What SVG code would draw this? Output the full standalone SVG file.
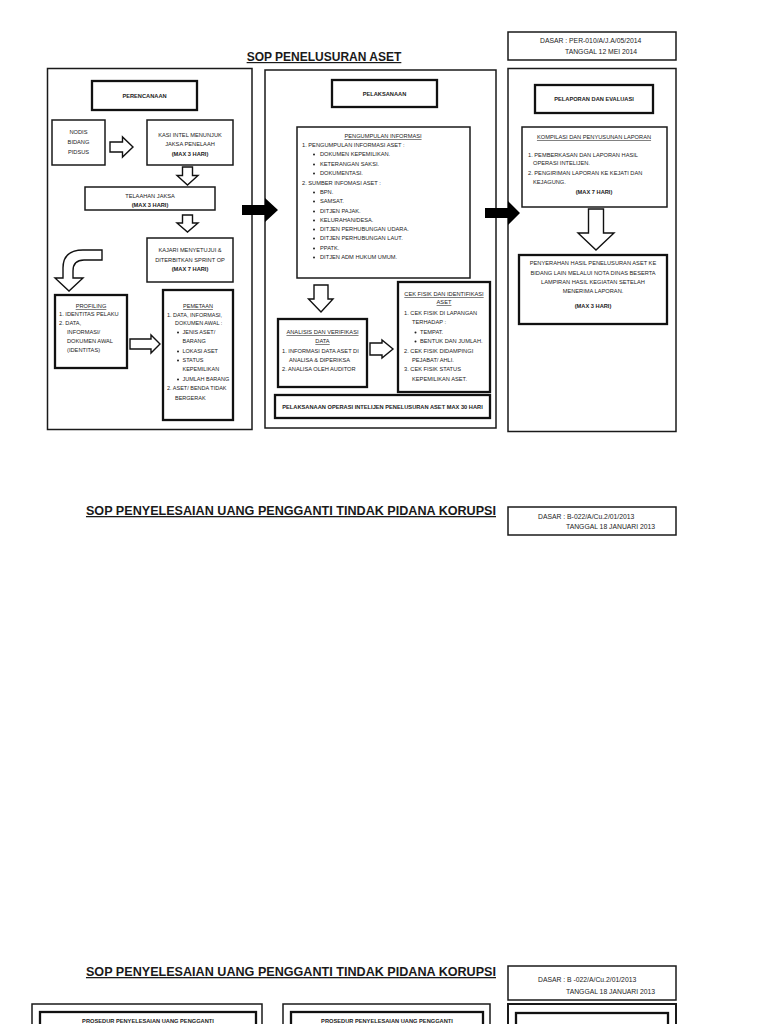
<svg xmlns="http://www.w3.org/2000/svg" width="768" height="1024" viewBox="0 0 768 1024">
<style>
.bg{fill:#ffffff}
.panel{fill:none;stroke:#1a1a1a;stroke-width:1.5}
.box{fill:#ffffff;stroke:#1a1a1a;stroke-width:1.5}
.thick{fill:#ffffff;stroke:#111111;stroke-width:2.3}
.ha{fill:#ffffff;stroke:#111111;stroke-width:1.4;stroke-linejoin:miter}
.sa{fill:#000000;stroke:none}
text{font-family:"Liberation Sans",Arial,sans-serif;fill:#222222;font-size:5.7px}
.c{text-anchor:middle}
.b{font-weight:bold}
.u{text-decoration:underline}
.title{font-size:12px;font-weight:bold;text-decoration:underline;fill:#1a1a1a}
.t2{font-size:12.6px}
.d{font-size:6.8px}
.s{font-size:5.5px}
.bul{fill:#222222}
</style>
<rect class="bg" x="0" y="0" width="768" height="1024"/>

<!-- Section 1 header -->
<g id="title1"><text class="title" x="324" y="61" text-anchor="middle">SOP PENELUSURAN ASET</text></g>
<g id="dasar1">
<rect class="box" x="508" y="32" width="168" height="28"/>
<text class="d" x="540" y="43">DASAR : PER-010/A/J.A/05/2014</text>
<text class="d" x="565" y="54">TANGGAL 12 MEI 2014</text>
</g>

<!-- Panels -->
<g id="panel-perencanaan"><rect class="panel" x="47.5" y="68.5" width="204.5" height="361"/></g>
<g id="panel-pelaksanaan"><rect class="panel" x="265" y="70" width="231" height="358"/></g>
<g id="panel-pelaporan"><rect class="panel" x="508" y="68.5" width="168" height="363"/></g>

<!-- Left panel nodes -->
<g id="perencanaan">
<rect class="thick" x="92" y="81" width="105" height="29"/>
<text class="c b" x="144.5" y="98">PERENCANAAN</text>
</g>
<g id="nodis">
<rect class="box" x="52" y="120" width="53" height="45"/>
<text class="c" x="78.5" y="134">NODIS</text>
<text class="c" x="78.5" y="144">BIDANG</text>
<text class="c" x="78.5" y="154">PIDSUS</text>
</g>
<g id="kasi">
<rect class="box" x="147" y="120" width="86" height="45"/>
<text class="c" x="190" y="137">KASI INTEL MENUNJUK</text>
<text class="c" x="190" y="146">JAKSA PENELAAH</text>
<text class="c b" x="190" y="156">(MAX 3 HARI)</text>
</g>
<g id="telaahan">
<rect class="box" x="85" y="187" width="130" height="23"/>
<text class="c" x="150" y="198">TELAAHAN JAKSA</text>
<text class="c b" x="150" y="207">(MAX 3 HARI)</text>
</g>
<g id="kajari">
<rect class="box" x="147" y="238" width="86" height="44"/>
<text class="c" x="190" y="252">KAJARI MENYETUJUI &amp;</text>
<text class="c" x="190" y="262">DITERBITKAN SPRINT OP</text>
<text class="c b" x="190" y="271">(MAX 7 HARI)</text>
</g>
<g id="profiling">
<rect class="thick" x="55" y="295" width="72" height="73"/>
<text class="c u" x="91" y="308">PROFILING</text>
<text x="59" y="316">1. IDENTITAS PELAKU</text>
<text x="59" y="325">2. DATA,</text>
<text x="67" y="334">INFORMASI/</text>
<text x="67" y="343">DOKUMEN AWAL</text>
<text x="67" y="352">(IDENTITAS)</text>
</g>
<g id="pemetaan">
<rect class="thick" x="163" y="290" width="70" height="130"/>
<text class="c u s" x="198" y="308">PEMETAAN</text>
<text class="s" x="167" y="317">1. DATA, INFORMASI,</text>
<text class="s" x="175" y="325">DOKUMEN AWAL :</text>
<circle class="bul" cx="178" cy="332.5" r="1"/><text class="s" x="182.5" y="334">JENIS ASET/</text>
<text class="s" x="182.5" y="343">BARANG</text>
<circle class="bul" cx="178" cy="351.5" r="1"/><text class="s" x="182.5" y="353">LOKASI ASET</text>
<circle class="bul" cx="178" cy="360.5" r="1"/><text class="s" x="182.5" y="362">STATUS</text>
<text class="s" x="182.5" y="371">KEPEMILIKAN</text>
<circle class="bul" cx="178" cy="379.5" r="1"/><text class="s" x="182.5" y="381">JUMLAH BARANG</text>
<text class="s" x="167" y="390">2. ASET/ BENDA TIDAK</text>
<text class="s" x="175" y="400">BERGERAK</text>
</g>

<!-- Middle panel nodes -->
<g id="pelaksanaan">
<rect class="thick" x="332" y="80" width="105" height="27"/>
<text class="c b" x="384.5" y="96">PELAKSANAAN</text>
</g>
<g id="pengumpulan">
<rect class="box" x="297" y="127" width="173" height="151"/>
<text class="c u" x="383" y="138">PENGUMPULAN INFORMASI</text>
<text x="302" y="147">1. PENGUMPULAN INFORMASI ASET :</text>
<circle class="bul" cx="314" cy="154.5" r="1"/><text x="320" y="156">DOKUMEN KEPEMILIKAN.</text>
<circle class="bul" cx="314" cy="164.5" r="1"/><text x="320" y="166">KETERANGAN SAKSI.</text>
<circle class="bul" cx="314" cy="173.5" r="1"/><text x="320" y="175">DOKUMENTASI.</text>
<text x="302" y="185">2. SUMBER INFOMASI ASET :</text>
<circle class="bul" cx="314" cy="192.5" r="1"/><text x="320" y="194">BPN.</text>
<circle class="bul" cx="314" cy="201.5" r="1"/><text x="320" y="203">SAMSAT.</text>
<circle class="bul" cx="314" cy="211.5" r="1"/><text x="320" y="213">DITJEN PAJAK.</text>
<circle class="bul" cx="314" cy="220.5" r="1"/><text x="320" y="222">KELURAHAN/DESA.</text>
<circle class="bul" cx="314" cy="229.5" r="1"/><text x="320" y="231">DITJEN PERHUBUNGAN UDARA.</text>
<circle class="bul" cx="314" cy="238.5" r="1"/><text x="320" y="240">DITJEN PERHUBUNGAN LAUT.</text>
<circle class="bul" cx="314" cy="248.5" r="1"/><text x="320" y="250">PPATK.</text>
<circle class="bul" cx="314" cy="257.5" r="1"/><text x="320" y="259">DITJEN ADM HUKUM UMUM.</text>
</g>
<g id="analisis">
<rect class="thick" x="278" y="319" width="89" height="68"/>
<text class="c u" x="322.5" y="334">ANALISIS DAN VERIFIKASI</text>
<text class="c u" x="322.5" y="343">DATA</text>
<text x="282" y="353">1. INFORMASI DATA ASET DI</text>
<text x="289" y="362">ANALISA &amp; DIPERIKSA</text>
<text x="282" y="371">2. ANALISA OLEH AUDITOR</text>
</g>
<g id="cekfisik">
<rect class="thick" x="398" y="282" width="92" height="110"/>
<text class="c u" x="444" y="296">CEK FISIK DAN IDENTIFIKASI</text>
<text class="c u" x="444" y="304">ASET</text>
<text x="404" y="315">1. CEK FISIK DI LAPANGAN</text>
<text x="412" y="324">TERHADAP :</text>
<circle class="bul" cx="415.5" cy="332.5" r="1"/><text x="420" y="334">TEMPAT.</text>
<circle class="bul" cx="415.5" cy="341.5" r="1"/><text x="420" y="343">BENTUK DAN JUMLAH.</text>
<text x="404" y="353">2. CEK FISIK DIDAMPINGI</text>
<text x="412" y="362">PEJABAT/ AHLI.</text>
<text x="404" y="371">3. CEK FISIK STATUS</text>
<text x="412" y="381">KEPEMILIKAN ASET.</text>
</g>
<g id="operasi">
<rect class="thick" x="275" y="395" width="215" height="23"/>
<text class="c b" x="382.5" y="409">PELAKSANAAN OPERASI INTELIJEN PENELUSURAN ASET MAX 30 HARI</text>
</g>

<!-- Right panel nodes -->
<g id="pelaporan">
<rect class="thick" x="535" y="85" width="118" height="28"/>
<text class="c b" x="594" y="101">PELAPORAN DAN EVALUASI</text>
</g>
<g id="kompilasi">
<rect class="box" x="522" y="127" width="145" height="80"/>
<text class="c u" x="594" y="139">KOMPILASI DAN PENYUSUNAN LAPORAN</text>
<text x="528" y="157">1. PEMBERKASAN DAN LAPORAN HASIL</text>
<text x="533" y="165">OPERASI INTELIJEN.</text>
<text x="528" y="175">2. PENGIRIMAN LAPORAN KE KEJATI DAN</text>
<text x="533" y="184">KEJAGUNG.</text>
<text class="c b" x="594" y="194">(MAX 7 HARI)</text>
</g>
<g id="penyerahan">
<rect class="thick" x="519" y="255" width="148" height="69"/>
<text class="c" x="593" y="265">PENYERAHAN HASIL PENELUSURAN ASET KE</text>
<text class="c" x="593" y="275">BIDANG LAIN MELALUI NOTA DINAS  BESERTA</text>
<text class="c" x="593" y="284">LAMPIRAN HASIL KEGIATAN SETELAH</text>
<text class="c" x="593" y="293">MENERIMA LAPORAN.</text>
<text class="c b" x="593" y="308">(MAX 3 HARI)</text>
</g>

<!-- Connectors -->
<g id="connectors">
<path class="ha" d="M110 142 L122.5 142 L122.5 137 L133 147 L122.5 157 L122.5 152 L110 152 Z"/>
<path class="ha" d="M182.5 167 L192.5 167 L192.5 175.5 L198 175.5 L187.5 185 L177 175.5 L182.5 175.5 Z"/>
<path class="ha" d="M182.5 215 L192.5 215 L192.5 223 L198 223 L187.5 232 L177 223 L182.5 223 Z"/>
<path class="ha" d="M102 250 L83 250 Q63 250 63 268 L63 278 L55 278 L69 291 L83 278 L73 278 L73 271 Q73 260 84 260 L102 260 Z"/>
<path class="ha" d="M130 339 L151 339 L151 335 L160 344 L151 353 L151 349 L130 349 Z"/>
<path class="sa" d="M242 205 L265 205 L265 198 L278 210 L265 222 L265 215 L242 215 Z"/>
<path class="sa" d="M485 208 L508 208 L508 201 L520 213 L508 225 L508 218 L485 218 Z"/>
<path class="ha" d="M314 285 L328 285 L328 299 L333 299 L321 312 L308.5 299 L314 299 Z"/>
<path class="ha" d="M370 343 L382 343 L382 340 L393 349 L382 358 L382 355 L370 355 Z"/>
<path class="ha" d="M588.5 209 L603.5 209 L603.5 233 L614 233 L596 250 L578 233 L588.5 233 Z"/>
</g>

<!-- Section 2 -->
<g id="title2"><text class="title t2" x="291" y="515" text-anchor="middle">SOP PENYELESAIAN UANG PENGGANTI TINDAK PIDANA KORUPSI</text></g>
<g id="dasar2">
<rect class="box" x="508" y="507" width="168" height="28"/>
<text class="d" x="538" y="519">DASAR : B-022/A/Cu.2/01/2013</text>
<text class="d" x="566" y="529">TANGGAL 18 JANUARI 2013</text>
</g>

<!-- Section 3 -->
<g id="title3"><text class="title t2" x="291" y="976" text-anchor="middle">SOP PENYELESAIAN UANG PENGGANTI TINDAK PIDANA KORUPSI</text></g>
<g id="dasar3">
<rect class="box" x="508" y="966" width="168" height="34"/>
<text class="d" x="538" y="982">DASAR : B -022/A/Cu.2/01/2013</text>
<text class="d" x="566" y="994">TANGGAL 18 JANUARI 2013</text>
</g>
<g id="panel3-1">
<rect class="panel" x="32" y="1004" width="230" height="40"/>
<rect class="thick" x="40" y="1012" width="216" height="30"/>
<text class="c b" x="148" y="1023">PROSEDUR PENYELESAIAN UANG PENGGANTI</text>
</g>
<g id="panel3-2">
<rect class="panel" x="283" y="1004" width="207" height="40"/>
<rect class="thick" x="291" y="1012" width="192" height="30"/>
<text class="c b" x="387" y="1023">PROSEDUR PENYELESAIAN UANG PENGGANTI</text>
</g>
<g id="panel3-3">
<rect class="panel" x="508" y="1004" width="168" height="40" style="stroke-width:2"/>
<rect class="thick" x="516" y="1013" width="152" height="30"/>
</g>
</svg>
